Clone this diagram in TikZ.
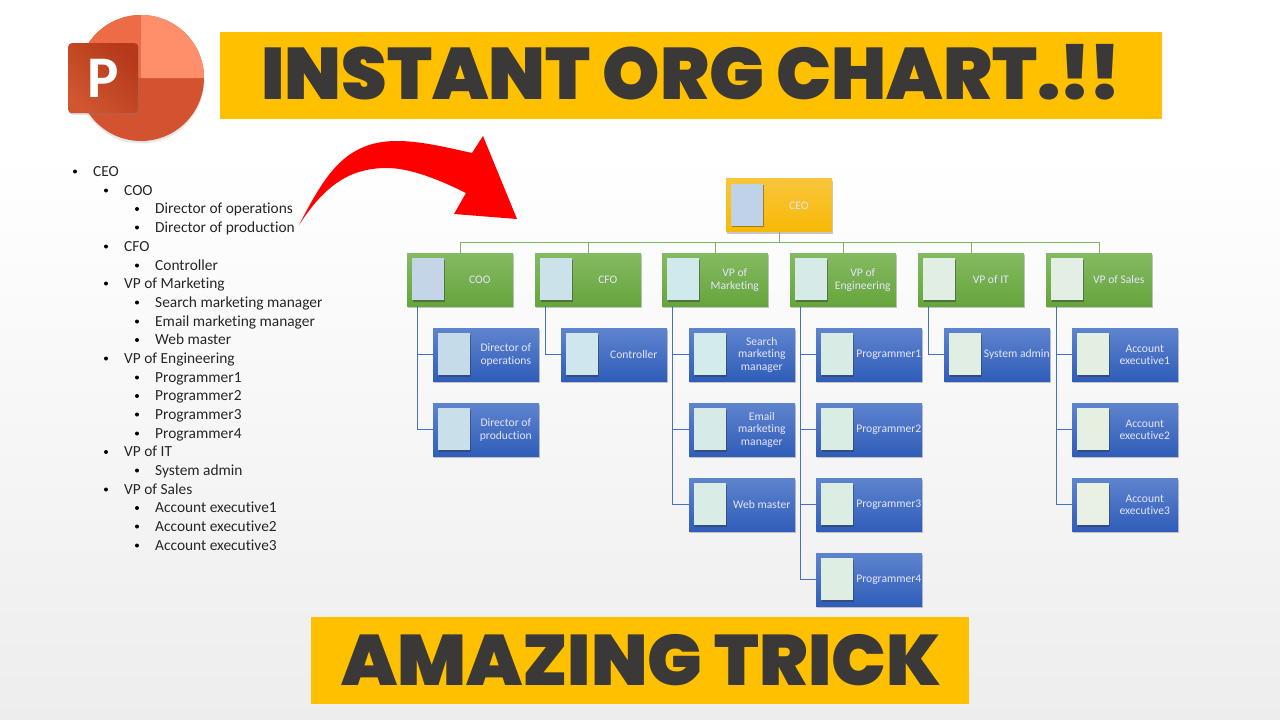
\documentclass[tikz,border=0pt]{standalone}
\usepackage{fontspec}
\setmainfont{Carlito}[Ligatures=CommonOff]
\newfontfamily\titlefont{Poppins Black}
\usetikzlibrary{shadows,calc}
\definecolor{ttl}{HTML}{3B3838}
\definecolor{yel}{HTML}{FFC000}
\definecolor{grA}{HTML}{84BA62}
\definecolor{grB}{HTML}{66A53C}
\definecolor{grL}{HTML}{7FB35F}
\definecolor{blA}{HTML}{5F84CE}
\definecolor{blB}{HTML}{2F5DB9}
\definecolor{blL}{HTML}{4472C4}
\definecolor{sqA}{HTML}{CF5630}
\definecolor{sqB}{HTML}{B5391A}
\definecolor{ceoA}{HTML}{F9C63C}
\definecolor{ceoB}{HTML}{F7B806}
\tikzset{x=1pt,y=-1pt,
 band/.style={fill=yel,draw=none,minimum width=#1,minimum height=87pt,inner sep=0pt,anchor=north west},
 titletext/.style={text=ttl,inner sep=0pt,anchor=base},
 card/.style={minimum width=106pt,minimum height=53pt,inner sep=0pt,anchor=north west,draw=none,
   drop shadow={shadow xshift=0.3pt,shadow yshift=-2pt,opacity=.3,fill=black!70}},
 ceocard/.style={card,top color=ceoA,bottom color=ceoB},
 greencard/.style={card,top color=grA,bottom color=grB},
 bluecard/.style={card,top color=blA,bottom color=blB},
 photo/.style={minimum width=32pt,minimum height=42pt,inner sep=0pt,anchor=north west,draw=none,
   drop shadow={shadow xshift=0.5pt,shadow yshift=-1.5pt,opacity=.45,fill=black!80}},
 cardtext/.style={font=\fontsize{11.6}{12.8}\selectfont,text=white!90!blue,align=center,inner sep=0pt},
 greenline/.style={draw=grL,line width=1.4pt},
 blueline/.style={draw=blL,line width=1.4pt},
 li/.style={font=\fontsize{15.4}{18}\selectfont,text=black!85,anchor=base west,inner sep=0pt},
 dot/.style={circle,fill=black,minimum size=4pt,inner sep=0pt}
}
\newcommand{\mkcard}[6]{%
 \definecolor{phc}{HTML}{#5}%
 \node[#4] (#1) at (#2,#3) {};
 \node[photo,fill=phc] (#1p) at (#2+5,#3+5) {};
 \node[cardtext] (#1t) at (#2+72.8,#3+26.8) {#6};
}
\newcommand{\mkli}[4]{%
 \node[dot] (#1d) at (#2-18,#3-4.5) {};
 \node[li] (#1) at (#2,#3) {#4};
}
\begin{document}
\begin{tikzpicture}
\useasboundingbox (0,0) rectangle (1280,720);
\fill[white] (0,0) rectangle (1280,150);
\shade[top color=white,bottom color=black!7] (0,150) rectangle (1280,720);

% logo
\fill[black!25,opacity=.35] (141,80) circle (63.5);
\fill[color={rgb,255:red,211;green,82;blue,48}] (141,78) circle (63);
\fill[color={rgb,255:red,237;green,108;blue,71}] (141,78) -- (141,15) arc[start angle=-90,end angle=-180,radius=63] -- cycle;
\fill[color={rgb,255:red,255;green,143;blue,107}] (141,78) -- (204,78) arc[start angle=0,end angle=-90,radius=63] -- cycle;
\node[minimum size=70pt,inner sep=0pt,rounded corners=3.5pt,left color=sqA,right color=sqB,shading angle=135,
  drop shadow={shadow xshift=.8pt,shadow yshift=-1.5pt,opacity=.3},anchor=north west] (logosq) at (68,43) {};
\node[font=\fontsize{59}{59}\selectfont\bfseries,text=white,inner sep=0pt] (logop) at (logosq.center) {P};

% bands
\node[band=942pt] (b1) at (220,32) {};
\node[titletext,font=\titlefont\fontsize{73}{73}\selectfont] (t1) at (691.5,99.5) {INSTANT ORG CHART.\kern-2pt!\kern-3pt!};
\node[band=658pt] (b2) at (311,617) {};
\node[titletext,font=\titlefont\fontsize{71.5}{71.5}\selectfont] (t2) at (641,685) {\scalebox{1.015}[1]{AMAZING TRICK}};

% list
\mkli{l1}{93}{176}{CEO}
\mkli{l2}{124}{195}{COO}
\mkli{l3}{155}{213.5}{Director of operations}
\mkli{l4}{155}{232}{Director of production}
\mkli{l5}{124}{251}{CFO}
\mkli{l6}{155}{270}{Controller}
\mkli{l7}{124}{288}{VP of Marketing}
\mkli{l8}{155}{307}{Search marketing manager}
\mkli{l9}{155}{326}{Email marketing manager}
\mkli{l10}{155}{344.5}{Web master}
\mkli{l11}{124}{363}{VP of Engineering}
\mkli{l12}{155}{382}{Programmer1}
\mkli{l13}{155}{400.5}{Programmer2}
\mkli{l14}{155}{419}{Programmer3}
\mkli{l15}{155}{438}{Programmer4}
\mkli{l16}{124}{456.5}{VP of IT}
\mkli{l17}{155}{475}{System admin}
\mkli{l18}{124}{494}{VP of Sales}
\mkli{l19}{155}{512.5}{Account executive1}
\mkli{l20}{155}{531}{Account executive2}
\mkli{l21}{155}{550}{Account executive3}

% arrow
\fill[red] (299,225) .. controls (325,175) and (345,141) .. (397,141) .. controls (420,141) and (445,147) .. (472,153)
  -- (483,136) -- (517,219) -- (454,214) -- (466,193)
  .. controls (430,175) and (405,168) .. (387,168) .. controls (350,168) and (325,185) .. (299,225) -- cycle;

% cards
\mkcard{ceo}{726}{178.5}{ceocard}{C0D2E8}{CEO}
\mkcard{coo}{407}{253}{greencard}{C5D5E8}{COO}
\mkcard{cfo}{535}{253}{greencard}{CCE2EA}{CFO}
\mkcard{mkt}{662}{253}{greencard}{D0E9EC}{VP of\\Marketing}
\mkcard{eng}{790}{253}{greencard}{D6EAE7}{VP of\\Engineering}
\mkcard{vit}{918}{253}{greencard}{E0EEE3}{VP of IT}
\mkcard{sal}{1046}{253}{greencard}{E3EFE4}{VP of Sales}

\mkcard{dop}{433}{328}{bluecard}{C5DBE9}{Director of\\operations}
\mkcard{dpr}{433}{403}{bluecard}{C9E0EA}{Director of\\production}
\mkcard{ctl}{561}{328}{bluecard}{CFE7EC}{Controller}
\mkcard{sea}{689}{328}{bluecard}{D3EBEA}{Search\\marketing\\manager}
\mkcard{ema}{689}{403}{bluecard}{D6EBE8}{Email\\marketing\\manager}
\mkcard{web}{689}{478}{bluecard}{D9ECE6}{Web master}
\mkcard{pr1}{816}{328}{bluecard}{D8ECE5}{Programmer1}
\mkcard{pr2}{816}{403}{bluecard}{DAEDE5}{Programmer2}
\mkcard{pr3}{816}{478}{bluecard}{DCEDE4}{Programmer3}
\mkcard{pr4}{816}{553}{bluecard}{DEEEE3}{Programmer4}
\mkcard{sys}{944}{328}{bluecard}{E0EEE3}{System admin}
\mkcard{ae1}{1072}{328}{bluecard}{E3EFE3}{Account\\executive1}
\mkcard{ae2}{1072}{403}{bluecard}{E5F0E3}{Account\\executive2}
\mkcard{ae3}{1072}{478}{bluecard}{E8F1E4}{Account\\executive3}

% connectors
\coordinate (bus) at (0,242.5);
\foreach \n in {coo,cfo,mkt,eng,vit,sal}{
  \draw[greenline] (ceo.south) |- (\n.north |- bus) -- (\n.north);
}
\foreach \p/\c in {coo/dop,coo/dpr,cfo/ctl,mkt/sea,mkt/ema,mkt/web,eng/pr1,eng/pr2,eng/pr3,eng/pr4,vit/sys,sal/ae1,sal/ae2,sal/ae3}{
  \draw[blueline] ($(\p.south west)+(10.5,0)$) |- (\c.west);
}
\end{tikzpicture}
\end{document}
